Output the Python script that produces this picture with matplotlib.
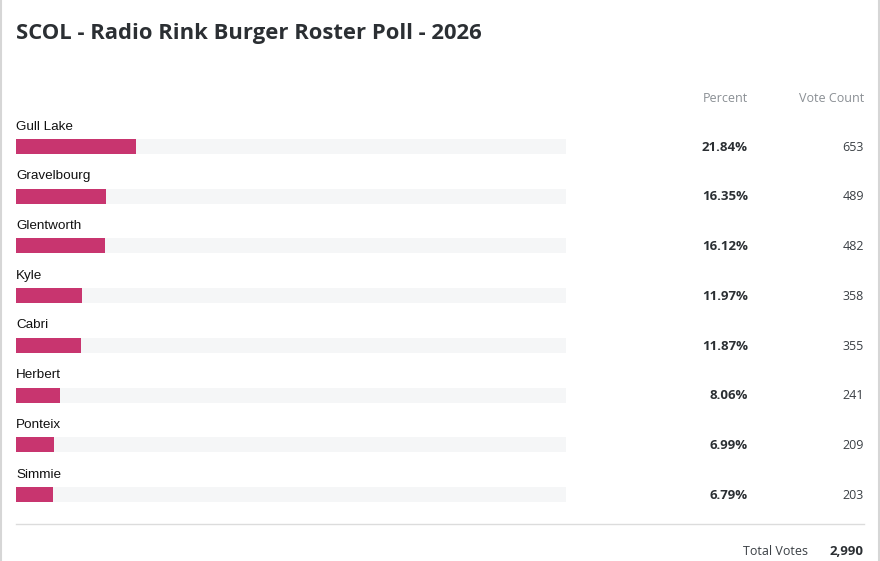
import matplotlib.pyplot as plt
from matplotlib.lines import Line2D

title = "SCOL - Radio Rink Burger Roster Poll - 2026"
names = ["Gull Lake", "Gravelbourg", "Glentworth", "Kyle", "Cabri",
         "Herbert", "Ponteix", "Simmie"]
percents = [21.84, 16.35, 16.12, 11.97, 11.87, 8.06, 6.99, 6.79]
votes = [653, 489, 482, 358, 355, 241, 209, 203]
total_votes = 2990

W, H = 880, 561
fig = plt.figure(figsize=(W / 100, H / 100), dpi=100)
fig.patch.set_facecolor("white")

# pixel helpers (top-left origin)
def fx(px):
    return px / W

def fy(py):
    return 1 - py / H

# panel border on left/right
fig.add_artist(Line2D([fx(0.8), fx(0.8)], [0, 1], color="#d6d6d6", lw=1.5))
fig.add_artist(Line2D([fx(879), fx(879)], [0, 1], color="#d6d6d6", lw=1.5))

fig.text(fx(16), fy(34), title, fontsize=15.8, fontweight="bold",
         family="Open Sans", color="#2b2f33", va="center", ha="left")

# bar axes: rows of bars, x from 16px to 566px
row0, step = 146.5, 49.7
n = len(names)
top_px = row0 - step / 2
bot_px = row0 + step * (n - 1) + step / 2
ax = fig.add_axes([fx(16), fy(bot_px), fx(566) - fx(16), (bot_px - top_px) / H])
ax.set_xlim(0, 100)
ax.set_ylim(n - 0.5, -0.5)
ax.axis("off")
pos = list(range(n))
bar_h = 15 / step
ax.barh(pos, [100] * n, height=bar_h, color="#f5f6f7", linewidth=0)
ax.barh(pos, percents, height=bar_h, color="#c8356f", linewidth=0)

for i in range(n):
    ax.text(0, i - 0.40, names[i], fontsize=9.7, family="Liberation Sans",
            color="#111111", va="center", ha="left")

fig.text(fx(748), fy(98.5), "Percent", fontsize=9, family="Open Sans",
         color="#8a8f94", ha="right", va="center")
fig.text(fx(864), fy(98.5), "Vote Count", fontsize=9, family="Open Sans",
         color="#8a8f94", ha="right", va="center")

for i in range(n):
    y = fy(row0 + 0.8 + step * i)
    fig.text(fx(748), y, f"{percents[i]:.2f}%", fontsize=9.5, fontweight="bold",
             family="Open Sans", color="#2b2f33", ha="right", va="center")
    fig.text(fx(864), y, f"{votes[i]}", fontsize=9, family="Open Sans",
             color="#3a3f44", ha="right", va="center")

fig.add_artist(Line2D([fx(16), fx(864)], [fy(524), fy(524)],
                      color="#dcdcdc", lw=1))
fig.text(fx(808), fy(551.5), "Total Votes", fontsize=9, family="Open Sans",
         color="#3a3f44", ha="right", va="center")
fig.text(fx(864), fy(551.5), f"{total_votes:,}", fontsize=9.5, fontweight="bold",
         family="Open Sans", color="#2b2f33", ha="right", va="center")

fig.savefig("out.png", dpi=100, facecolor="white")
